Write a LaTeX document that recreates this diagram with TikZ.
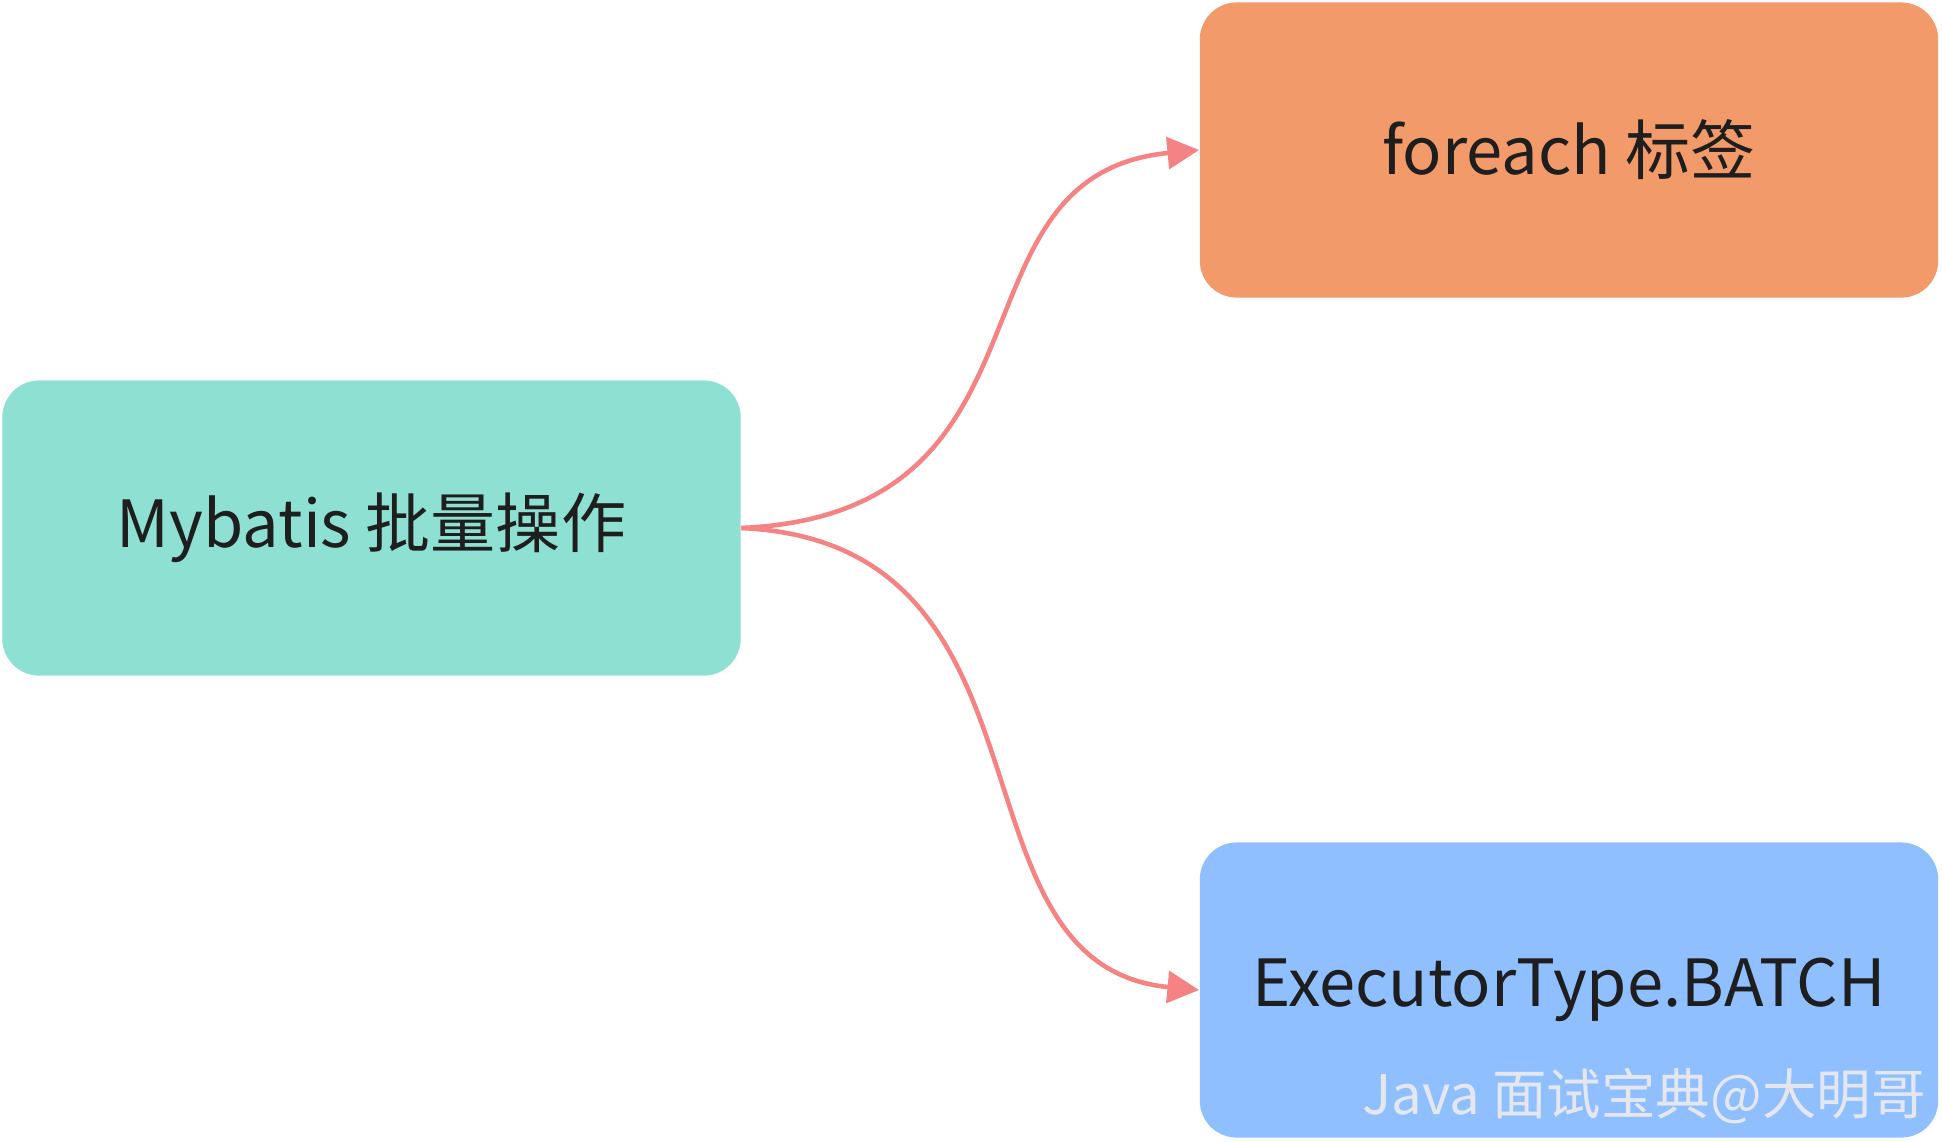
\documentclass[tikz,border=0pt]{standalone}
\usepackage{fontspec}
\setmainfont{Noto Sans CJK SC}
\usetikzlibrary{arrows.meta}
\definecolor{cgreen}{HTML}{8EE0D3}
\definecolor{corange}{HTML}{F39A6B}
\definecolor{cblue}{HTML}{8FBFFF}
\definecolor{carrow}{HTML}{F58383}
\definecolor{ctext}{HTML}{1E1E1E}
\definecolor{cwm}{HTML}{E4E8EE}
\tikzset{box/.style={rounded corners=0.37cm, minimum width=7.38cm, minimum height=2.95cm, inner sep=0pt, text=ctext, font=\fontsize{18.5}{22}\selectfont},
conn/.style={draw=carrow, line width=1.3pt, -{Triangle[length=9pt,width=9pt]}}}
\begin{document}
\begin{tikzpicture}[x=0.01cm,y=-0.01cm]
\useasboundingbox[fill=white] (0,0) rectangle (1942,1141);
\node[box, fill=cgreen] (m) at (371.5,528) {Mybatis 批量操作};
\node[box, fill=corange] (f) at (1569,150) {foreach 标签};
\node[box, fill=cblue] (e) at (1569,990) {ExecutorType.BATCH};
\draw[conn] (m.east) .. controls +(330,-15) and +(-260,25) .. (f.west);
\draw[conn] (m.east) .. controls +(330,15) and +(-260,-25) .. (e.west);
\node[anchor=south east, text=cwm, font=\fontsize{15.5}{19}\selectfont] (w) at (1938,1136) {Java 面试宝典@大明哥};
\end{tikzpicture}
\end{document}
